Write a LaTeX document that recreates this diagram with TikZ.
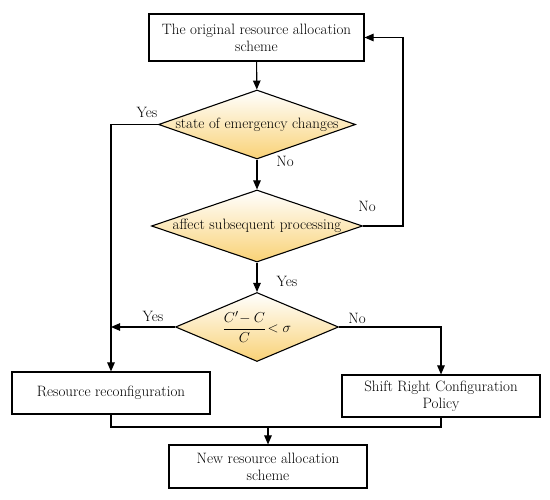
\documentclass[tikz,border=0pt]{standalone}
\usetikzlibrary{shapes.geometric,arrows.meta,calc}
\definecolor{dfill}{RGB}{249,210,118}
\begin{document}
\begin{tikzpicture}[x=1pt,y=-1pt,
  every node/.style={font=\fontsize{15}{17}\selectfont},
  box/.style={draw,line width=1.1pt,rectangle,align=center,inner sep=0pt},
  dec/.style={draw,line width=1.1pt,diamond,inner sep=0pt,top color=white,bottom color=dfill,middle color={dfill!50!white}},
  conn/.style={line width=1.1pt},
  arr/.style={conn,-{Triangle[length=9pt,width=7.5pt]}},
  lab/.style={inner sep=0pt}
]
\useasboundingbox (0,0) rectangle (550,500);
\node[box,minimum width=215pt,minimum height=47pt] (top) at (256.5,37.5) {The original resource allocation\\scheme};
\node[dec,minimum width=197pt,minimum height=69pt,label=center:{state of emergency changes}] (d1) at (257,124.5) {};
\node[dec,minimum width=211pt,minimum height=72pt,label=center:{affect subsequent processing}] (d2) at (257,226) {};
\node[dec,minimum width=163pt,minimum height=69pt,label=center:{$\displaystyle\frac{C'\!-C}{C}\!<\sigma$}] (d3) at (257,327) {};
\node[box,minimum width=198pt,minimum height=42pt] (rr) at (111,393) {Resource reconfiguration};
\node[box,minimum width=198pt,minimum height=42pt] (sr) at (441,396) {Shift Right Configuration\\Policy};
\node[box,minimum width=198pt,minimum height=43pt] (nb) at (268,466.5) {New resource allocation\\scheme};
\coordinate (ret) at (403,226);
\coordinate (merge) at (268,427);
\draw[arr] (top) -- (d1);
\draw[arr] (d1.west) -| (rr.north);
\draw[arr] (d1) -- (d2);
\draw[arr] (d2.east) -- (ret) |- (top.east);
\draw[arr] (d2) -- (d3);
\draw[arr] (d3.west) -- (d3.west -| rr.north);
\draw[arr] (d3.east) -| (sr.north);
\draw[conn] (rr.south) |- (merge) -| (sr.south);
\draw[arr] (merge) -- (nb.north);
\node[lab] (y1) at (147,112) {Yes};
\node[lab] (n1) at (285,161) {No};
\node[lab] (n2) at (367,206) {No};
\node[lab] (y2) at (287,281) {Yes};
\node[lab] (y3) at (153,316) {Yes};
\node[lab] (n3) at (357,318) {No};
\end{tikzpicture}
\end{document}
